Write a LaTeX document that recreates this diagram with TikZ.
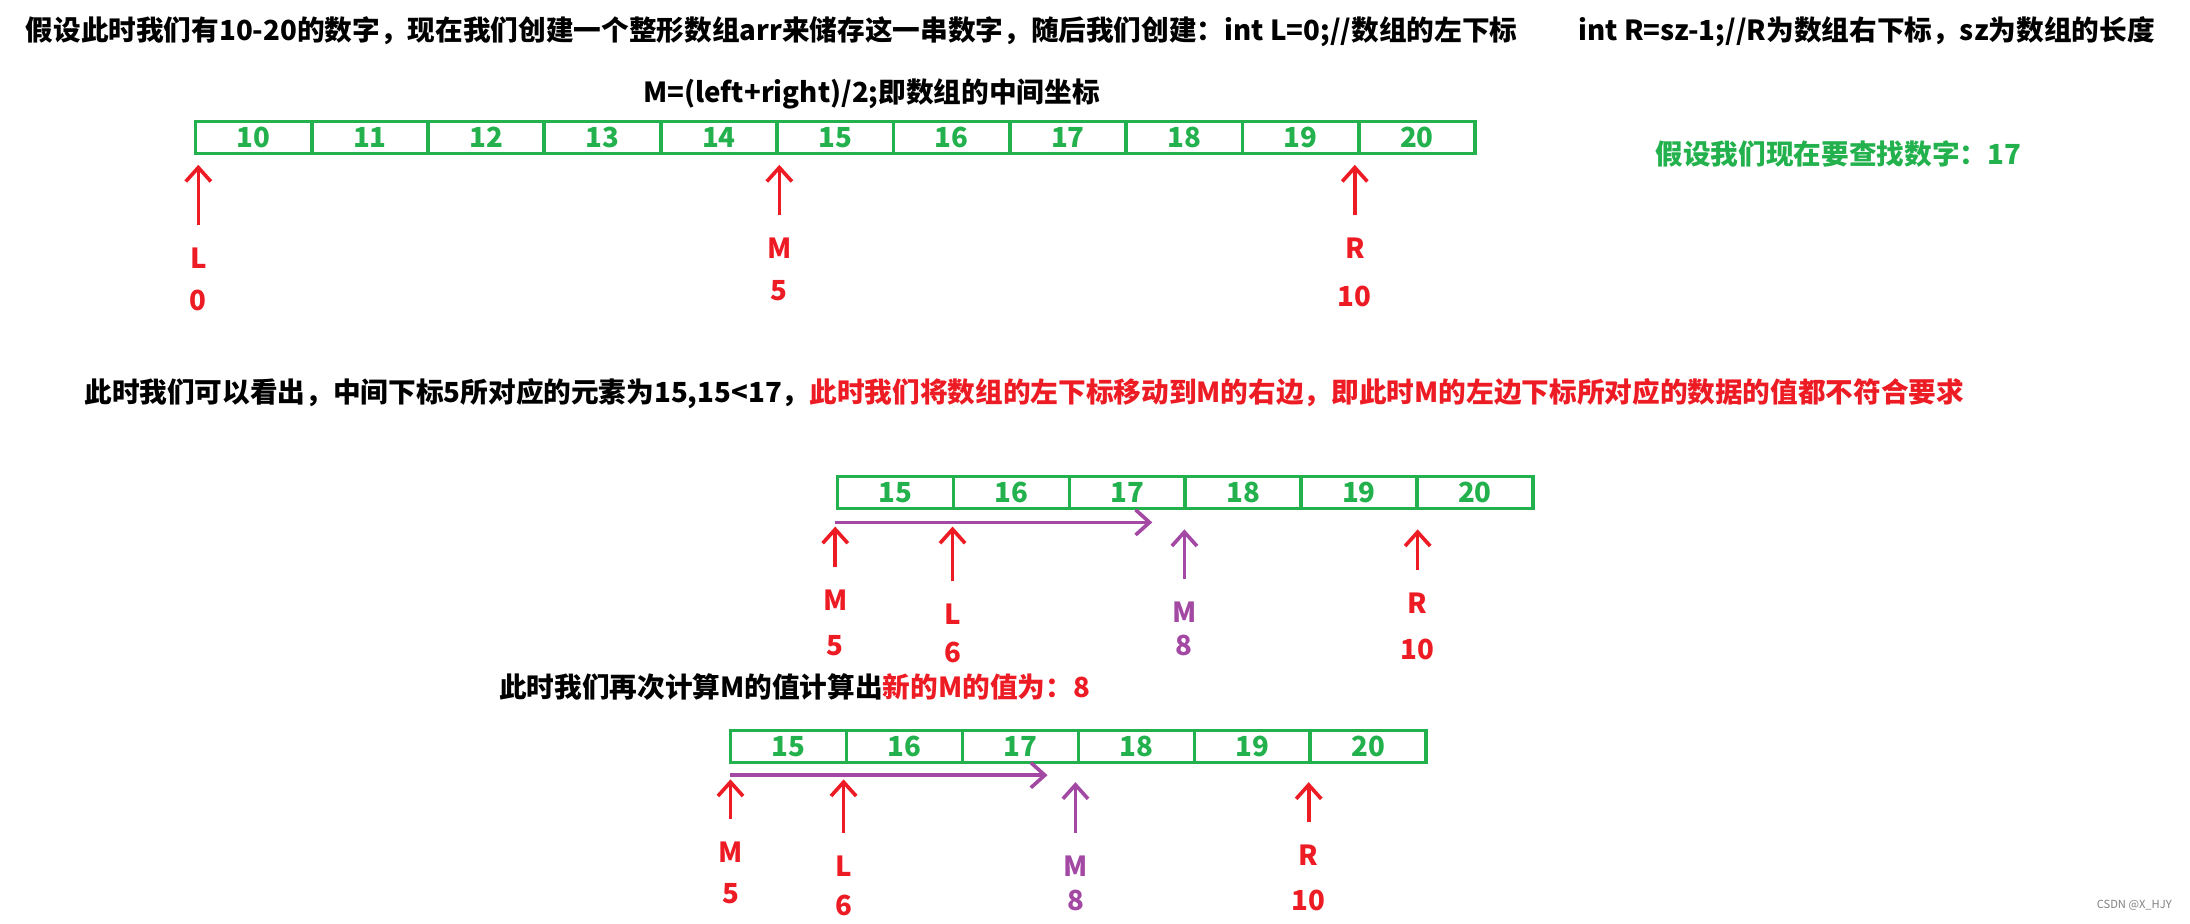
\documentclass[tikz,border=0pt]{standalone}
\usepackage{fontspec}
\setmainfont{Noto Sans CJK SC}
\usetikzlibrary{arrows.meta,positioning}
\definecolor{pred}{RGB}{237,28,36}
\definecolor{pgreen}{RGB}{34,177,76}
\definecolor{ppurple}{RGB}{163,73,164}
\tikzset{
  txt/.style  = {font=\fontsize{9.9}{11}\selectfont\bfseries, inner sep=0pt},
  cell/.style = {draw=pgreen, line width=1.2pt, minimum width=41.5pt, minimum height=11.5pt,
                 inner sep=0pt, text=pgreen, font=\fontsize{9.9}{11}\selectfont\bfseries},
  lab/.style  = {txt, text=pred},
  plab/.style = {txt, text=ppurple},
  uparrow/.style = {pred, line width=1.3pt, -{Straight Barb[length=5pt,width=9pt]}, shorten <=8pt},
  parrow/.style  = {ppurple, line width=1.3pt, -{Straight Barb[length=5pt,width=9pt]}}
}
\begin{document}
\begin{tikzpicture}[x=0.5pt,y=-0.5pt]
\useasboundingbox (0,0) rectangle (1568,661);

% header text
\node[txt, anchor=west] (t1) at (18,23) {假设此时我们有10-20的数字，现在我们创建一个整形数组arr来储存这一串数字，随后我们创建：int L=0;//数组的左下标\hspace{2.2em}int R=sz-1;//R为数组右下标，sz为数组的长度};
\node[txt] (t2) at (624,67) {M=(left+right)/2;即数组的中间坐标};
\node[txt, text=pgreen, anchor=west] (t3) at (1185,110) {假设我们现在要查找数字：17};

% first array
\foreach \v [count=\i from 0] in {10,...,20}
  \node[cell] (a\i) at (181.5+83.3*\i,98.5) {\v};

\node[lab] (aL) at (142,185) {L};
\node[lab] (aL0) at (142,215) {0};
\node[lab] (aM) at (558,178) {M};
\node[lab] (aM5) at (558,208) {5};
\node[lab] (aR) at (970,178) {R};
\node[lab] (aR10) at (970,212) {10};
\coordinate (pL) at (142,118);
\coordinate (pM) at (558,118);
\coordinate (pR) at (970,118);
\draw[uparrow] (aL) -- (pL);
\draw[uparrow] (aM) -- (pM);
\draw[uparrow] (aR) -- (pR);

% second line
\node[txt, anchor=west] (t4) at (60,282) {此时我们可以看出，中间下标5所对应的元素为15,15<17，\textcolor{pred}{此时我们将数组的左下标移动到M的右边，即此时M的左边下标所对应的数据的值都不符合要求}};

% second array
\foreach \v [count=\i from 0] in {15,...,20}
  \node[cell] (b\i) at (641+83*\i,352.5) {\v};

\coordinate (bs) at (598,374);
\coordinate (be) at (825,374);
\draw[parrow] (bs) -- (be);
\node[lab] (bM) at (598,430) {M};
\node[lab] (bM5) at (598,462) {5};
\node[lab] (bL) at (682,440) {L};
\node[lab] (bL6) at (682,467) {6};
\node[plab] (bN) at (848,438) {M};
\node[plab] (bN8) at (848,462) {8};
\node[lab] (bR) at (1015,432) {R};
\node[lab] (bR10) at (1015,465) {10};
\coordinate (qM) at (598,377);
\coordinate (qL) at (682,377);
\coordinate (qN) at (848,379);
\coordinate (qR) at (1015,379);
\draw[uparrow] (bM) -- (qM);
\draw[uparrow] (bL) -- (qL);
\draw[parrow, shorten <=8pt] (bN) -- (qN);
\draw[uparrow] (bR) -- (qR);

% third line
\node[txt, anchor=west] (t5) at (357,492) {此时我们再次计算M的值计算出\textcolor{pred}{新的M的值为：8}};

% third array
\foreach \v [count=\i from 0] in {15,...,20}
  \node[cell] (c\i) at (564.5+83*\i,534.5) {\v};

\coordinate (cs) at (523,555);
\coordinate (ce) at (750,555);
\draw[parrow] (cs) -- (ce);
\node[lab] (cM) at (523,610) {M};
\node[lab] (cM5) at (523,640) {5};
\node[lab] (cL) at (604,620) {L};
\node[lab] (cL6) at (604,648) {6};
\node[plab] (cN) at (770,620) {M};
\node[plab] (cN8) at (770,645) {8};
\node[lab] (cR) at (937,612) {R};
\node[lab] (cR10) at (937,645) {10};
\coordinate (rM) at (523,558);
\coordinate (rL) at (604,558);
\coordinate (rN) at (770,560);
\coordinate (rR) at (937,560);
\draw[uparrow] (cM) -- (rM);
\draw[uparrow] (cL) -- (rL);
\draw[parrow, shorten <=8pt] (cN) -- (rN);
\draw[uparrow] (cR) -- (rR);

\node[font=\fontsize{4}{5}\selectfont, text=gray, anchor=east] (wm) at (1562,648) {CSDN @X\_HJY};
\end{tikzpicture}
\end{document}
